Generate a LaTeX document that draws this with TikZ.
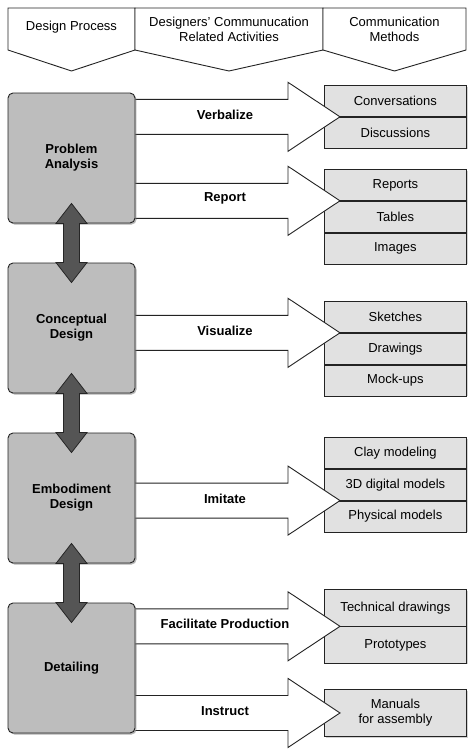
\documentclass[tikz,border=0pt]{standalone}
\usepackage{fontspec}
\setmainfont{Liberation Sans}
\usetikzlibrary{shadows,calc}
\definecolor{procgray}{RGB}{189,189,189}
\definecolor{methgray}{RGB}{225,225,225}
\definecolor{dblgray}{RGB}{85,85,85}
\definecolor{linegray}{RGB}{35,35,35}

\newcommand\blockarrow[4]{% #1 name of label, #2 source node, #3 tip coordinate, #4 label
  \filldraw[bigarrow] let \p1=(#2.east), \p2=(#3) in
    (\x1,\y2+17.5pt) -- (\x2-52pt,\y2+17.5pt) -- (\x2-52pt,\y2+34.5pt) -- (\x2,\y2)
    -- (\x2-52pt,\y2-34.5pt) -- (\x2-52pt,\y2-17.5pt) -- (\x1,\y2-17.5pt);
  \node[arrowlabel] (#1) at ($(#3)+(-115,-2)$) {#4};
}
\newcommand\dblarrow[2]{% #1 upper node, #2 lower node
  \filldraw[dbl] let \p1=(#1.south), \p2=(#2.north) in
    (\x1,\y1+20pt) -- (\x1+15.5pt,\y1) -- (\x1+8pt,\y1) -- (\x1+8pt,\y2)
    -- (\x1+15.5pt,\y2) -- (\x1,\y2-20pt) -- (\x1-15.5pt,\y2) -- (\x1-8pt,\y2)
    -- (\x1-8pt,\y1) -- (\x1-15.5pt,\y1) -- cycle;
}

\begin{document}
\begin{tikzpicture}[x=1pt,y=-1pt,
  every node/.style={font=\fontsize{13}{15}\selectfont, align=center, inner sep=0pt},
  header/.style={draw=linegray, line width=0.9pt, fill=white, line join=miter},
  procbox/.style={draw=linegray, line width=0.9pt, fill=procgray, rounded corners=5pt,
    minimum width=127pt, minimum height=130pt,
    font=\fontsize{13}{15}\selectfont\bfseries,
    drop shadow={shadow xshift=1.5pt,shadow yshift=-1.5pt,opacity=0.35}},
  groupbg/.style={draw=linegray, line width=0.9pt, fill=methgray, minimum width=142pt,
    anchor=north west,
    drop shadow={shadow xshift=1.5pt,shadow yshift=-1.5pt,opacity=0.35}},
  methrow/.style={draw=linegray, line width=0.8pt, fill=methgray, minimum width=142pt,
    anchor=north west},
  bigarrow/.style={fill=white, draw=linegray, line width=0.9pt, line join=miter},
  arrowlabel/.style={font=\fontsize{13}{15}\selectfont\bfseries},
  dbl/.style={fill=dblgray, draw=black!85, line width=0.8pt, line join=miter}
]
\useasboundingbox (0,0) rectangle (474,755);
\fill[white] (0,0) rectangle (474,755);

% ---------- header ----------
\filldraw[header] (8,8) -- (135,8) -- (135,50) -- (71.5,71) -- (8,50) -- cycle;
\filldraw[header] (135,8) -- (323,8) -- (323,50) -- (229,71) -- (135,50) -- cycle;
\filldraw[header] (323,8) -- (466,8) -- (466,50) -- (394.5,71) -- (323,50) -- cycle;
\node (h1) at (71.5,27) {Design Process};
\node (h2) at (229,29.5) {Designers' Communucation\\Related Activities};
\node (h3) at (394.5,29.5) {Communication\\Methods};

% ---------- communication methods ----------
\node[groupbg, minimum height=62pt] (g1) at (324,85) {};
\node[methrow, minimum height=31pt] (m1a) at (324,85) {Conversations};
\node[methrow, minimum height=31pt] (m1b) at (m1a.south west) {Discussions};

\node[groupbg, minimum height=93pt] (g2) at (324,169) {};
\node[methrow, minimum height=31pt] (m2a) at (324,169) {Reports};
\node[methrow, minimum height=31pt] (m2b) at (m2a.south west) {Tables};
\node[methrow, minimum height=31pt] (m2c) at (m2b.south west) {Images};

\node[groupbg, minimum height=93pt] (g3) at (324,301) {};
\node[methrow, minimum height=31pt] (m3a) at (324,301) {Sketches};
\node[methrow, minimum height=31pt] (m3b) at (m3a.south west) {Drawings};
\node[methrow, minimum height=31pt] (m3c) at (m3b.south west) {Mock-ups};

\node[groupbg, minimum height=93pt] (g4) at (324,437) {};
\node[methrow, minimum height=31pt] (m4a) at (324,437) {Clay modeling};
\node[methrow, minimum height=31pt] (m4b) at (m4a.south west) {3D digital models};
\node[methrow, minimum height=31pt] (m4c) at (m4b.south west) {Physical models};

\node[groupbg, minimum height=73pt] (g5) at (324,589) {};
\node[methrow, minimum height=36.5pt] (m5a) at (324,589) {Technical drawings};
\node[methrow, minimum height=36.5pt] (m5b) at (m5a.south west) {Prototypes};

\node[groupbg, minimum height=47pt] (m6) at (324,689) {Manuals\\for assembly};

% ---------- arrow tips ----------
\coordinate (t1) at ($(m1a.south west)+(16,0)$);
\coordinate (t2) at ($(m2a.south west)+(16,0)$);
\coordinate (t3) at ($(m3a.south west)+(16,0)$);
\coordinate (t4) at ($(m4b.south west)+(16,0)$);
\coordinate (t5) at ($(m5a.south west)+(16,0)$);
\coordinate (t6) at ($(m6.west)+(16,0)$);

% ---------- process boxes (placed first for anchors) ----------
\path (71.5,158) coordinate (cpa) (71.5,328) coordinate (ccd)
      (71.5,498) coordinate (ced) (71.5,668) coordinate (cdt);
\node[procbox, draw=none, fill=none, drop shadow={opacity=0}] (pa0) at (cpa) {};
\node[procbox, draw=none, fill=none, drop shadow={opacity=0}] (cd0) at (ccd) {};
\node[procbox, draw=none, fill=none, drop shadow={opacity=0}] (ed0) at (ced) {};
\node[procbox, draw=none, fill=none, drop shadow={opacity=0}] (dt0) at (cdt) {};

% ---------- block arrows ----------
\blockarrow{l1}{pa0}{t1}{Verbalize}
\blockarrow{l2}{pa0}{t2}{Report}
\blockarrow{l3}{cd0}{t3}{Visualize}
\blockarrow{l4}{ed0}{t4}{Imitate}
\blockarrow{l5}{dt0}{t5}{Facilitate Production}
\blockarrow{l6}{dt0}{t6}{Instruct}

% ---------- design process ----------
\node[procbox] (pa) at (cpa) {Problem\\Analysis};
\node[procbox] (cd) at (ccd) {Conceptual\\Design};
\node[procbox] (ed) at (ced) {Embodiment\\Design};
\node[procbox] (dt) at (cdt) {Detailing};

\dblarrow{pa}{cd}
\dblarrow{cd}{ed}
\dblarrow{ed}{dt}
\end{tikzpicture}
\end{document}
